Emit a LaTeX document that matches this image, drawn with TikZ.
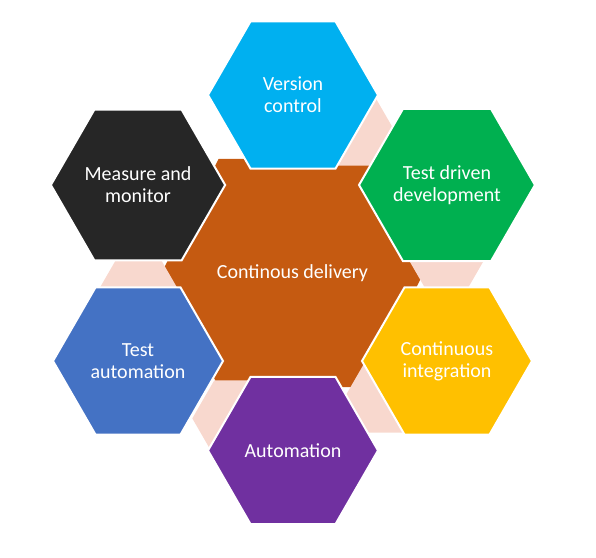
\documentclass[tikz,border=0pt]{standalone}
\usepackage{fontspec}
\setmainfont{Carlito}
\usetikzlibrary{shapes.geometric}

\definecolor{cdorange}{RGB}{197,90,17}
\definecolor{vcblue}{RGB}{0,176,240}
\definecolor{tddgreen}{RGB}{0,176,80}
\definecolor{cigold}{RGB}{255,192,0}
\definecolor{autopurple}{RGB}{112,48,160}
\definecolor{tablue}{RGB}{68,114,196}
\definecolor{mmgray}{RGB}{38,38,38}
\definecolor{linkpink}{RGB}{248,216,206}

\tikzset{
  hexbox/.style={regular polygon, regular polygon sides=6, minimum size=170pt,
    inner sep=0pt, draw=white, line width=2pt, text=white, align=center,
    font=\fontsize{20}{22}\selectfont},
  linkhex/.style={regular polygon, regular polygon sides=6, minimum size=88pt,
    inner sep=0pt, fill=linkpink},
  corelabel/.style={text=white, font=\fontsize{20}{22}\selectfont}
}

\begin{document}
\begin{tikzpicture}[x=1pt,y=1pt]

\useasboundingbox (0,0) rectangle (596,557);

% centre
\fill[cdorange, shift={(292.5,284)}] (-131,0) -- (-74,114) -- (74,114)
  -- (131,0) -- (74,-114) -- (-74,-114) -- cycle;
\node[corelabel] (cd) at (292.5,284) {Continous delivery};

% pale links between the outer cells
\node[linkhex] (l1) at (348.7,429.4) {};
\node[linkhex] (l2) at (446.5,308) {};
\node[linkhex] (l4) at (390.3,162.6) {};
\node[linkhex] (l5) at (138.5,260) {};
\node[linkhex] (l6) at (236.3,138.6) {};

% outer cells
\node[hexbox, fill=vcblue] (vc) at (293,462) {Version\\control};
\node[hexbox, fill=tddgreen] (tdd) at (447,372) {Test driven\\development};
\node[hexbox, fill=cigold] (ci) at (447,196) {Continuous\\integration};
\node[hexbox, fill=autopurple] (auto) at (293,106.5) {Automation};
\node[hexbox, fill=tablue] (ta) at (138,196) {Test\\automation};
\node[hexbox, fill=mmgray] (mm) at (138,372) {Measure and\\monitor};

\end{tikzpicture}
\end{document}
